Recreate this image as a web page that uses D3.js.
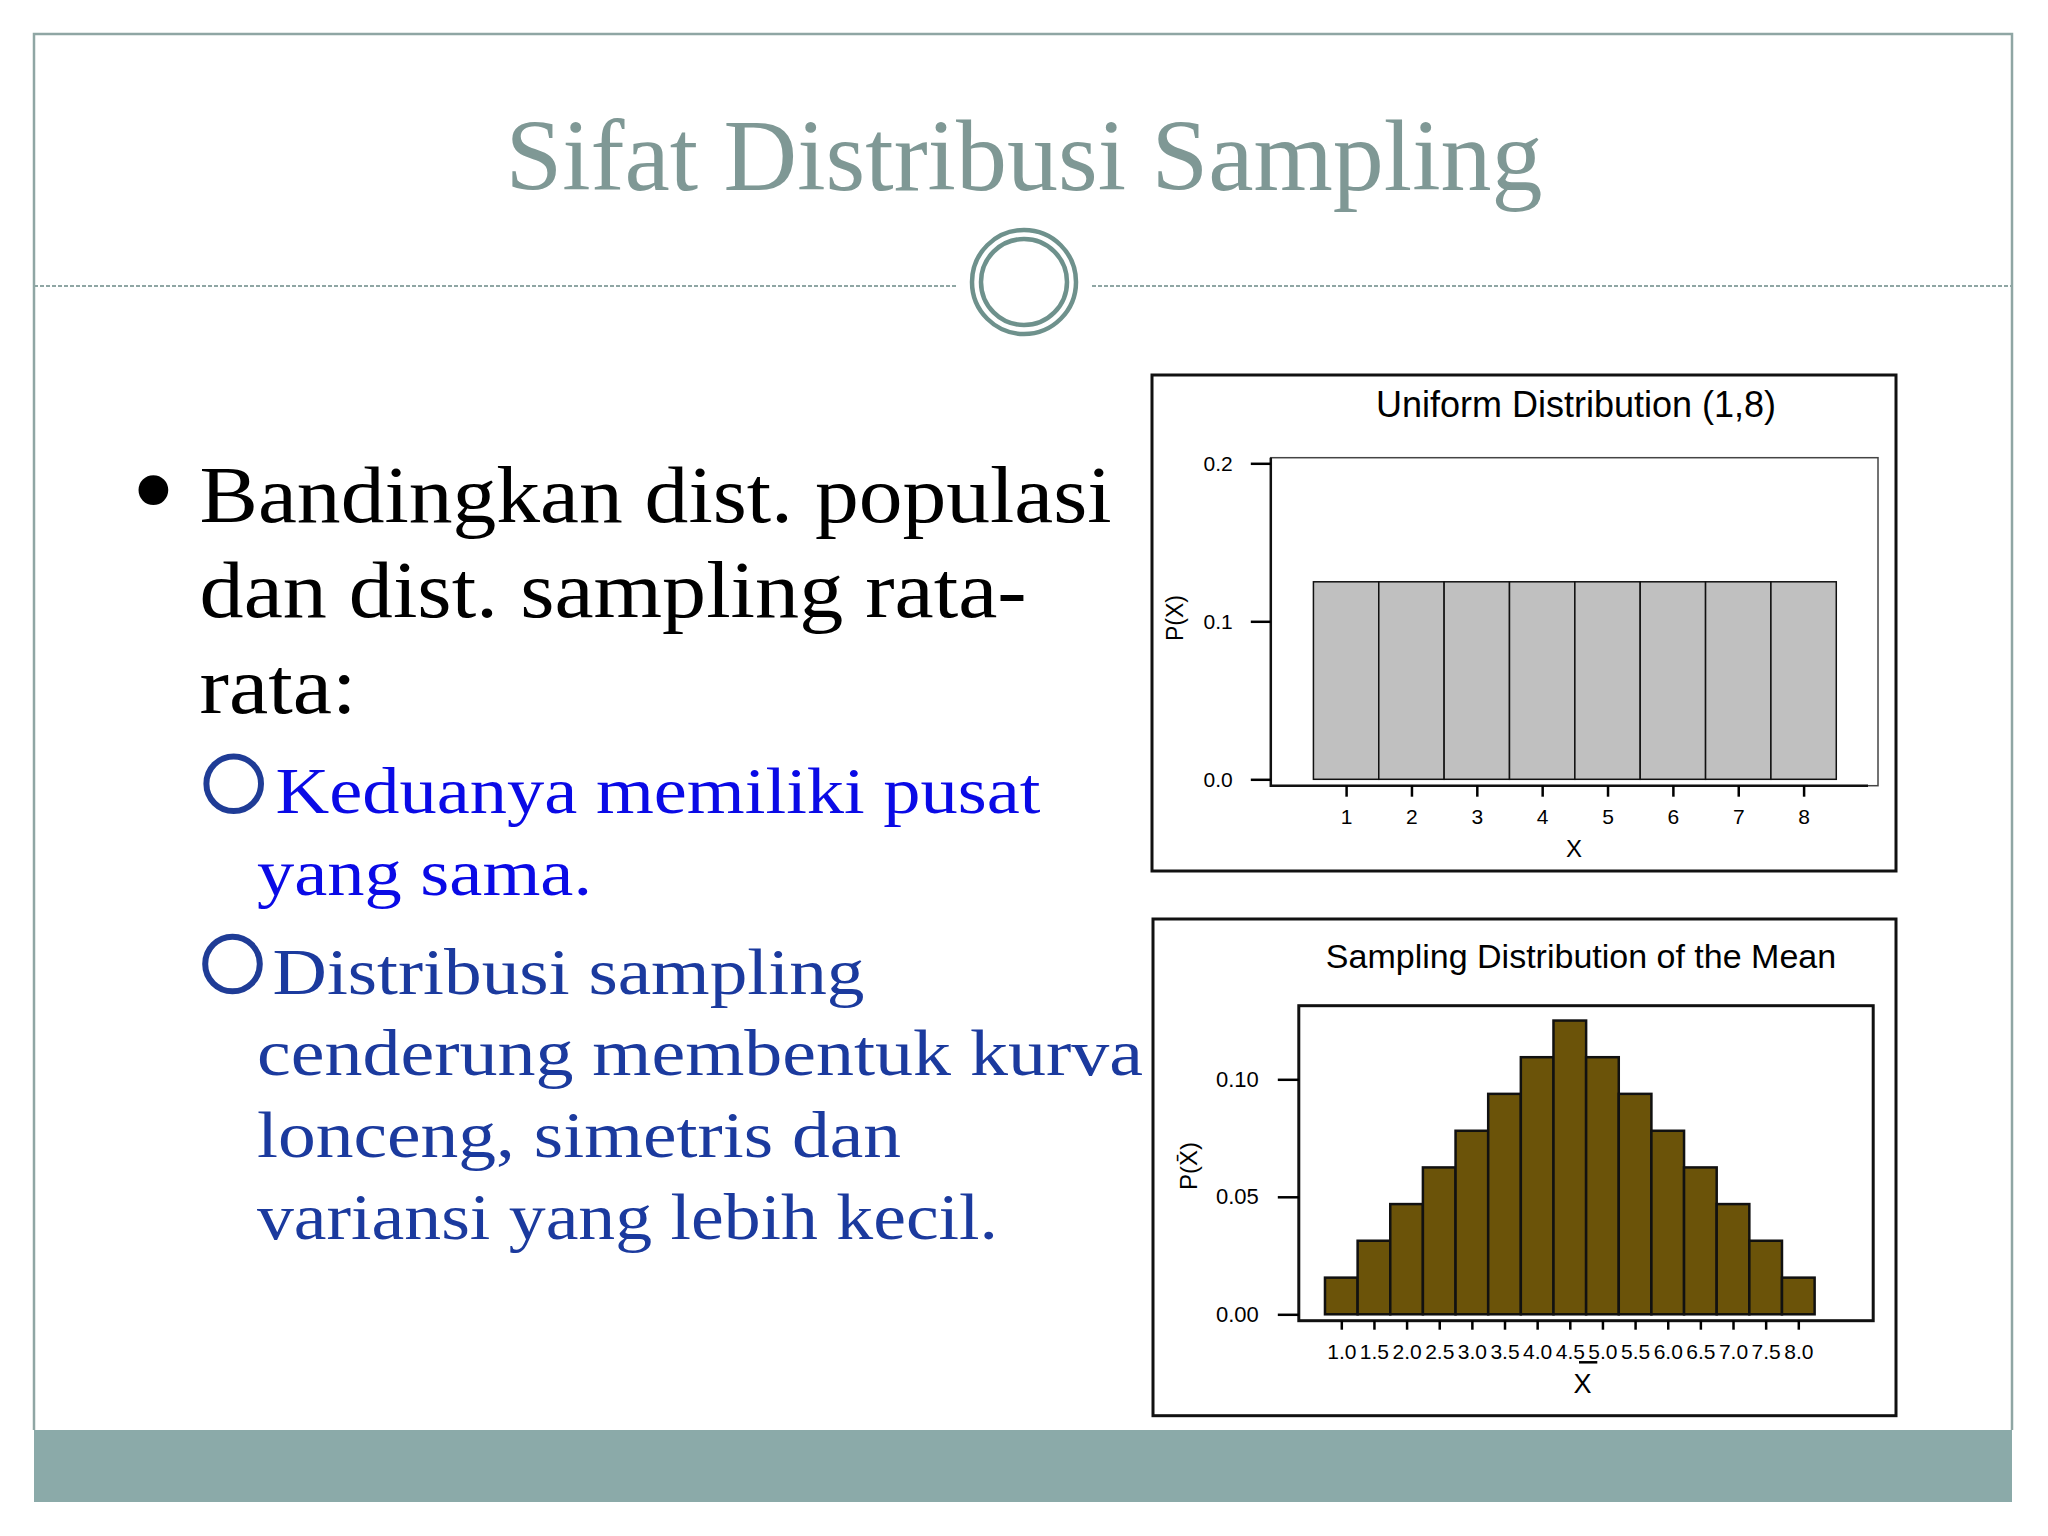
<!DOCTYPE html>
<html>
<head>
<meta charset="utf-8">
<script src="https://cdn.jsdelivr.net/npm/d3@7"></script>
<style>
  html, body { margin: 0; padding: 0; background: #fff; }
  svg { display: block; }
</style>
</head>
<body>
<div id="slide"></div>
<script>
// slide text
const slideTitle = 'Sifat Distribusi Sampling';
const bodyLines = ['Bandingkan dist. populasi', 'dan dist. sampling rata-', 'rata:'];
const subOneLines = ['Keduanya memiliki pusat', 'yang sama.'];
const subTwoLines = ['Distribusi sampling', 'cenderung membentuk kurva', 'lonceng, simetris dan', 'variansi yang lebih kecil.'];

// uniform population, X = 1..8
const uniformTitle = 'Uniform Distribution (1,8)';
const uniformX = [1, 2, 3, 4, 5, 6, 7, 8];
const uniformP = [0.125, 0.125, 0.125, 0.125, 0.125, 0.125, 0.125, 0.125];
const uniformYTicks = [0, 0.1, 0.2];

// sampling distribution of the mean
const meanTitle = 'Sampling Distribution of the Mean';
const meanX = [1.0, 1.5, 2.0, 2.5, 3.0, 3.5, 4.0, 4.5, 5.0, 5.5, 6.0, 6.5, 7.0, 7.5, 8.0];
const meanP = [0.0156, 0.0313, 0.0469, 0.0625, 0.0781, 0.0938, 0.1094, 0.125,
               0.1094, 0.0938, 0.0781, 0.0625, 0.0469, 0.0313, 0.0156];
const meanYTicks = [0, 0.05, 0.10];

const W = 2048, H = 1536;
const teal = '#8fa6a4';
const serif = '"Liberation Serif", "Times New Roman", serif';
const sans = '"Liberation Sans", Arial, Helvetica, sans-serif';

const svg = d3.select('#slide').append('svg')
  .attr('width', W)
  .attr('height', H);

// ---- slide frame ----
svg.append('path')
  .attr('d', `M34,1430 V34 H2012 V1430`)
  .attr('fill', 'none')
  .attr('stroke', teal)
  .attr('stroke-width', 2.5);

svg.append('rect')
  .attr('x', 34).attr('y', 1430)
  .attr('width', 2012 - 34).attr('height', 72)
  .attr('fill', '#8baaa9');

svg.append('text')
  .attr('x', 1024).attr('y', 190)
  .attr('text-anchor', 'middle')
  .attr('font-family', serif)
  .attr('font-size', 102)
  .attr('fill', '#7f9895')
  .text(slideTitle);

// dotted divider with the double ring
[[34, 956], [1092, 2012]].forEach(function (seg) {
  svg.append('line')
    .attr('x1', seg[0]).attr('x2', seg[1])
    .attr('y1', 286).attr('y2', 286)
    .attr('stroke', teal)
    .attr('stroke-width', 2)
    .attr('stroke-dasharray', '4,2');
});
[52, 43].forEach(function (r) {
  svg.append('circle')
    .attr('cx', 1024).attr('cy', 282).attr('r', r)
    .attr('fill', 'none')
    .attr('stroke', '#6e918c')
    .attr('stroke-width', 4.5);
});

// ---- bullet text ----
const bodyLayout = [
  { x: 199.6, y: 521.7, w: 912 },
  { x: 199.6, y: 616.7, w: 827 },
  { x: 199.6, y: 713.3, w: 157 }
];
const subOneLayout = [
  { x: 275.5, y: 812.7, w: 765 },
  { x: 257, y: 895, w: 335 }
];
const subTwoLayout = [
  { x: 272.5, y: 994, w: 592 },
  { x: 257, y: 1075, w: 886 },
  { x: 257, y: 1157, w: 644 },
  { x: 257, y: 1239.3, w: 741 }
];

function writeLines(lines, layout, size, color) {
  svg.append('g').selectAll('text')
    .data(lines)
    .enter()
    .append('text')
    .attr('x', (d, i) => layout[i].x)
    .attr('y', (d, i) => layout[i].y)
    .attr('textLength', (d, i) => layout[i].w)
    .attr('lengthAdjust', 'spacingAndGlyphs')
    .attr('font-family', serif)
    .attr('font-size', size)
    .attr('fill', color)
    .text(d => d);
}

svg.append('text')
  .attr('x', 131.5).attr('y', 532)
  .attr('font-family', serif)
  .attr('font-size', 125)
  .attr('fill', '#000')
  .text('\u2022');

writeLines(bodyLines, bodyLayout, 80, '#000');
writeLines(subOneLines, subOneLayout, 66, '#0a0ae6');
writeLines(subTwoLines, subTwoLayout, 66, '#1b3a9e');

// hollow sub-bullets
[[233.7, 783.7], [232.5, 964]].forEach(function (c) {
  svg.append('circle')
    .attr('cx', c[0]).attr('cy', c[1])
    .attr('r', 27.3)
    .attr('fill', 'none')
    .attr('stroke', '#1f3c96')
    .attr('stroke-width', 6);
});

// ---- chart helpers ----
function styleAxis(g, size) {
  g.select('.domain').remove();
  g.selectAll('.tick line').attr('stroke', '#000').attr('stroke-width', 2.5);
  g.selectAll('.tick text')
    .attr('font-family', sans)
    .attr('font-size', size)
    .attr('fill', '#000');
}

// ---- chart 1: uniform ----
(function () {
  const box = { x0: 1152, x1: 1896, y0: 375, y1: 871 };
  const frame = { x0: 1270.8, x1: 1878, y0: 457.7, y1: 785.7 };
  const g = svg.append('g');

  g.append('rect')
    .attr('x', box.x0).attr('y', box.y0)
    .attr('width', box.x1 - box.x0).attr('height', box.y1 - box.y0)
    .attr('fill', '#fff').attr('stroke', '#111').attr('stroke-width', 3);

  const x = d3.scaleLinear().domain([1, 8]).range([1346.1, 1803.6]);
  const y = d3.scaleLinear().domain([0, 0.2]).range([779.3, 463.3]);
  const step = x(2) - x(1);

  g.append('rect')
    .attr('x', frame.x0).attr('y', frame.y0)
    .attr('width', frame.x1 - frame.x0).attr('height', frame.y1 - frame.y0)
    .attr('fill', 'none').attr('stroke', '#444').attr('stroke-width', 1.5);

  g.selectAll('.bar')
    .data(uniformX)
    .enter()
    .append('rect')
    .attr('class', 'bar')
    .attr('x', d => x(d) - step / 2)
    .attr('width', step)
    .attr('y', (d, i) => y(uniformP[i]))
    .attr('height', (d, i) => y(0) - y(uniformP[i]))
    .attr('fill', '#c0c0c0')
    .attr('stroke', '#111')
    .attr('stroke-width', 1.5);

  g.append('path')
    .attr('d', `M${frame.x0},${frame.y0} V${frame.y1} H1868`)
    .attr('fill', 'none').attr('stroke', '#111').attr('stroke-width', 2.5);

  g.append('g')
    .attr('transform', `translate(${frame.x0},0)`)
    .call(d3.axisLeft(y).tickValues(uniformYTicks).tickFormat(d3.format('.1f'))
      .tickSize(20).tickPadding(18))
    .call(a => styleAxis(a, 21));

  g.append('g')
    .attr('transform', `translate(0,${frame.y1})`)
    .call(d3.axisBottom(x).tickValues(uniformX).tickFormat(d3.format('d'))
      .tickSize(11).tickPadding(12))
    .call(a => styleAxis(a, 21));

  g.append('text')
    .attr('x', 1576).attr('y', 416.7)
    .attr('text-anchor', 'middle')
    .attr('font-family', sans).attr('font-size', 36)
    .text(uniformTitle);

  g.append('text')
    .attr('x', 1574).attr('y', 857.3)
    .attr('text-anchor', 'middle')
    .attr('font-family', sans).attr('font-size', 24)
    .text('X');

  g.append('text')
    .attr('transform', 'translate(1183,618) rotate(-90)')
    .attr('text-anchor', 'middle')
    .attr('font-family', sans).attr('font-size', 23)
    .text('P(X)');
})();

// ---- chart 2: sampling distribution of the mean ----
(function () {
  const box = { x0: 1153, x1: 1896, y0: 919, y1: 1415.7 };
  const frame = { x0: 1298.8, x1: 1873.2, y0: 1005.7, y1: 1320.7 };
  const g = svg.append('g');

  g.append('rect')
    .attr('x', box.x0).attr('y', box.y0)
    .attr('width', box.x1 - box.x0).attr('height', box.y1 - box.y0)
    .attr('fill', '#fff').attr('stroke', '#111').attr('stroke-width', 3);

  const x = d3.scaleLinear().domain([1, 8]).range([1341.3, 1798.3]);
  const y = d3.scaleLinear().domain([0, 0.1]).range([1314.3, 1079.3]);
  const step = x(1.5) - x(1);

  g.append('rect')
    .attr('x', frame.x0).attr('y', frame.y0)
    .attr('width', frame.x1 - frame.x0).attr('height', frame.y1 - frame.y0)
    .attr('fill', 'none').attr('stroke', '#111').attr('stroke-width', 3);

  g.selectAll('.bar')
    .data(meanX)
    .enter()
    .append('rect')
    .attr('class', 'bar')
    .attr('x', d => x(d) - step / 2)
    .attr('width', step)
    .attr('y', (d, i) => y(meanP[i]))
    .attr('height', (d, i) => y(0) - y(meanP[i]))
    .attr('fill', '#6b5309')
    .attr('stroke', '#111')
    .attr('stroke-width', 2.5);

  g.append('g')
    .attr('transform', `translate(${frame.x0},0)`)
    .call(d3.axisLeft(y).tickValues(meanYTicks).tickFormat(d3.format('.2f'))
      .tickSize(21).tickPadding(19))
    .call(a => styleAxis(a, 22));

  g.append('g')
    .attr('transform', `translate(0,${frame.y1})`)
    .call(d3.axisBottom(x).tickValues(meanX).tickFormat(d3.format('.1f'))
      .tickSize(9).tickPadding(14))
    .call(a => styleAxis(a, 21));

  g.append('text')
    .attr('x', 1581).attr('y', 967.7)
    .attr('text-anchor', 'middle')
    .attr('font-family', sans).attr('font-size', 34)
    .text(meanTitle);

  // X-bar axis title: the bar sits above the X, over the 5.0 label
  g.append('text')
    .attr('x', 1582.5).attr('y', 1393.3)
    .attr('text-anchor', 'middle')
    .attr('font-family', sans).attr('font-size', 27)
    .text('X');
  g.append('line')
    .attr('x1', 1579).attr('x2', 1597.3)
    .attr('y1', 1362.3).attr('y2', 1362.3)
    .attr('stroke', '#000').attr('stroke-width', 2.5);

  g.append('text')
    .attr('transform', 'translate(1197,1166) rotate(-90)')
    .attr('text-anchor', 'middle')
    .attr('font-family', sans).attr('font-size', 24)
    .text('P(X\u0304)');
})();
</script>
</body>
</html>
